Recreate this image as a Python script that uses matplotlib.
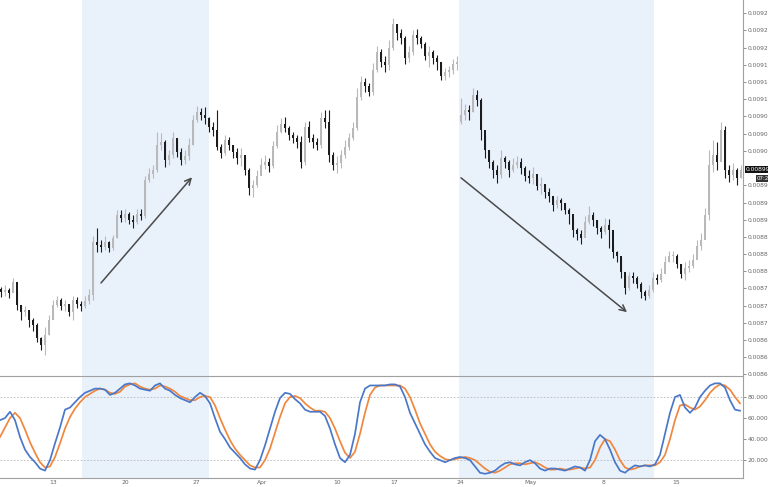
import matplotlib
matplotlib.use("Agg")
import matplotlib.pyplot as plt
from matplotlib import transforms
import numpy as np

# prix en millioniemes (0.008774 -> 8774), barres 4h
closes = [8774, 8778, 8773, 8793, 8751, 8738, 8742, 8724, 8714, 8691,
          8678, 8696, 8724, 8751, 8760, 8749, 8753, 8738, 8760, 8753,
          8749, 8758, 8769, 8865, 8860, 8856, 8865, 8854, 8873, 8914,
          8909, 8916, 8905, 8902, 8916, 8913, 8978, 8989, 8996, 9042,
          9047, 9014, 9023, 9054, 9029, 9014, 9022, 9042, 9087, 9101,
          9096, 9091, 9074, 9069, 9038, 9027, 9051, 9042, 9029, 9018,
          9023, 8996, 8963, 8969, 8985, 9005, 9011, 9003, 9040, 9065,
          9080, 9072, 9060, 9054, 9047, 9011, 9074, 9054, 9047, 9042,
          9091, 9083, 9023, 9005, 9009, 9023, 9038, 9054, 9072, 9129,
          9156, 9149, 9138, 9178, 9211, 9192, 9187, 9218, 9261, 9245,
          9236, 9200, 9211, 9241, 9236, 9225, 9203, 9211, 9200, 9192,
          9167, 9174, 9178, 9189, 9192, 9096, 9105, 9101, 9132, 9123,
          9069, 9032, 9011, 8996, 8987, 9018, 9011, 8996, 9005, 9011,
          9000, 8985, 8982, 8989, 8967, 8971, 8956, 8949, 8933, 8942,
          8936, 8923, 8916, 8887, 8880, 8873, 8902, 8914, 8905, 8891,
          8883, 8896, 8887, 8847, 8840, 8811, 8782, 8804, 8800, 8789,
          8774, 8767, 8778, 8800, 8796, 8807, 8829, 8840, 8840, 8825,
          8807, 8818, 8822, 8833, 8858, 8869, 8914, 9005, 9023, 9011,
          9069, 8996, 8987, 8996, 8982, 8996]

highs = [8784, 8787, 8782, 8800, 8778, 8751, 8749, 8738, 8727, 8718,
         8693, 8711, 8733, 8760, 8767, 8764, 8760, 8751, 8767, 8765,
         8758, 8767, 8780, 8876, 8891, 8869, 8876, 8867, 8878, 8923,
         8923, 8925, 8920, 8914, 8925, 8925, 8985, 9000, 9005, 9065,
         9063, 9051, 9032, 9065, 9054, 9036, 9032, 9054, 9096, 9112,
         9109, 9111, 9092, 9083, 9105, 9043, 9060, 9056, 9042, 9036,
         9036, 9022, 9000, 8978, 8996, 9018, 9023, 9018, 9049, 9078,
         9091, 9092, 9076, 9065, 9060, 9058, 9083, 9085, 9062, 9054,
         9101, 9105, 9105, 9029, 9022, 9032, 9051, 9063, 9083, 9145,
         9167, 9163, 9154, 9191, 9221, 9216, 9203, 9232, 9272, 9261,
         9252, 9240, 9221, 9250, 9252, 9240, 9229, 9221, 9214, 9205,
         9192, 9181, 9185, 9198, 9203, 9127, 9116, 9114, 9145, 9141,
         9127, 9060, 9032, 9014, 9005, 9032, 9022, 9014, 9018, 9022,
         9018, 9003, 8996, 9002, 8982, 8983, 8969, 8963, 8945, 8949,
         8945, 8934, 8927, 8905, 8891, 8887, 8913, 8931, 8920, 8905,
         8894, 8909, 8907, 8858, 8849, 8836, 8807, 8811, 8811, 8804,
         8793, 8778, 8787, 8811, 8807, 8818, 8840, 8849, 8849, 8843,
         8825, 8829, 8833, 8843, 8869, 8882, 8927, 9032, 9051, 9047,
         9083, 9076, 9005, 9009, 9000, 9005]

lows = [8765, 8767, 8764, 8774, 8742, 8724, 8731, 8711, 8704, 8684,
        8669, 8660, 8696, 8727, 8747, 8742, 8740, 8731, 8724, 8745,
        8740, 8745, 8753, 8760, 8847, 8847, 8851, 8847, 8851, 8873,
        8902, 8902, 8898, 8891, 8898, 8905, 8909, 8974, 8982, 8992,
        9032, 9002, 9005, 9018, 9020, 9005, 9007, 9014, 9042, 9083,
        9087, 9080, 9065, 9058, 9032, 9018, 9023, 9032, 9018, 9007,
        9003, 8987, 8951, 8947, 8965, 8987, 8998, 8992, 9000, 9036,
        9063, 9065, 9051, 9045, 9036, 9000, 9005, 9047, 9036, 9032,
        9036, 9072, 9011, 8996, 8991, 9000, 9018, 9032, 9051, 9069,
        9123, 9138, 9131, 9132, 9174, 9183, 9174, 9178, 9214, 9232,
        9225, 9189, 9192, 9205, 9225, 9218, 9196, 9183, 9189, 9178,
        9160, 9160, 9165, 9171, 9178, 9080, 9087, 9087, 9101, 9112,
        9051, 9018, 9000, 8982, 8972, 8982, 9000, 8983, 8992, 9000,
        8989, 8976, 8972, 8971, 8960, 8953, 8945, 8938, 8922, 8927,
        8923, 8916, 8898, 8874, 8869, 8862, 8883, 8898, 8894, 8880,
        8873, 8880, 8854, 8836, 8829, 8800, 8771, 8778, 8791, 8782,
        8764, 8760, 8764, 8774, 8789, 8793, 8814, 8829, 8829, 8818,
        8800, 8796, 8811, 8818, 8847, 8851, 8883, 8905, 8992, 8996,
        9014, 8982, 8974, 8978, 8969, 8982]

first_open = 8780
gap_opens = {115: 9083}   # ouverture apres le week-end

# stochastique, un point toutes les 1.25 barres
stoch_k = [58, 60, 66, 58, 42, 30, 23, 18, 12, 10,
           20, 36, 51, 68, 70, 75, 80, 84, 86, 88,
           88, 87, 82, 84, 88, 92, 93, 91, 88, 87,
           86, 91, 93, 88, 86, 82, 79, 77, 75, 80,
           84, 81, 74, 60, 47, 40, 32, 27, 22, 16,
           12, 11, 20, 34, 50, 66, 79, 84, 83, 78,
           74, 68, 66, 66, 66, 62, 50, 35, 22, 18,
           25, 45, 75, 88, 91, 91, 91, 91, 92, 92,
           90, 80, 65, 55, 45, 35, 28, 22, 20, 18,
           20, 22, 23, 22, 20, 14, 8, 7, 8, 10,
           14, 17, 18, 16, 15, 18, 20, 17, 12, 10,
           12, 12, 11, 10, 12, 14, 13, 10, 20, 38,
           44, 40, 30, 18, 10, 8, 12, 15, 14, 15,
           14, 16, 25, 45, 65, 80, 82, 70, 65, 70,
           80, 86, 91, 93, 93, 89, 77, 68, 67]

stoch_d = [42, 51, 60, 65, 60, 49, 37, 27, 18, 13,
           14, 23, 36, 50, 61, 69, 75, 80, 83, 86,
           88, 87, 84, 83, 85, 90, 92, 93, 90, 88,
           87, 88, 91, 90, 88, 85, 81, 79, 77, 77,
           80, 81, 80, 72, 60, 49, 39, 31, 25, 20,
           15, 13, 13, 20, 31, 46, 61, 74, 80, 81,
           79, 74, 70, 67, 67, 66, 60, 50, 38, 27,
           22, 28, 45, 65, 82, 89, 91, 91, 91, 91,
           91, 88, 80, 68, 55, 45, 35, 28, 24, 21,
           20, 21, 22, 23, 22, 20, 16, 12, 9, 8,
           10, 13, 16, 17, 17, 16, 17, 18, 16, 13,
           11, 11, 12, 11, 11, 12, 13, 12, 13, 20,
           32, 40, 38, 30, 20, 13, 11, 12, 14, 15,
           15, 15, 18, 25, 40, 58, 72, 73, 70, 68,
           71, 77, 84, 89, 92, 91, 87, 80, 74]

# 0.009000 est cache par l'etiquette du dernier prix
price_labels = ["0.008625", "0.008656", "0.008687", "0.008718", "0.008750",
                "0.008781", "0.008812", "0.008844", "0.008875", "0.008906",
                "0.008937", "0.008969", "0.009031", "0.009062",
                "0.009094", "0.009125", "0.009156", "0.009187", "0.009218",
                "0.009250", "0.009281"]
stoch_levels = [20, 40, 60, 80]

date_labels = ["13", "20", "27", "Apr", "10", "17", "24", "May", "8", "15"]
date_pos = [13, 31, 48.75, 65.25, 84, 98.25, 114.75, 132.5, 150.75, 168.75]

zones = [(20.25, 52), (114.5, 163.25)]
fleches = [((25, 8791), (47.75, 8983)), ((115, 8982), (156.5, 8738))]

last_price = "0.008996"
countdown = "07:24"

c = np.array(closes) / 1e6
h = np.array(highs) / 1e6
l = np.array(lows) / 1e6
o = np.r_[first_open / 1e6, c[:-1]]
for k, v in gap_opens.items():
    o[k] = v / 1e6
x = np.arange(len(c))

fig = plt.figure(figsize=(7.68, 4.87), dpi=100)
ax = fig.add_axes([0, 1 - 376 / 487, 743 / 768, 376 / 487])
ax2 = fig.add_axes([0, 1 - 478 / 487, 743 / 768, 102 / 487], sharex=ax)

for a in (ax, ax2):
    for z in zones:
        a.axvspan(z[0], z[1], color="#e9f1fb", zorder=0, lw=0)

up = c >= o
col = np.where(up, "#b9b9b9", "#1c1c1c")
ax.vlines(x, l, h, colors=col, lw=0.8, zorder=2)
ax.bar(x, np.maximum(np.abs(c - o), 1.5e-6), bottom=np.minimum(o, c),
       width=0.55, color=col, zorder=3, lw=0)

for (x0, y0), (x1, y1) in fleches:
    ax.annotate("", xy=(x1, y1 / 1e6), xytext=(x0, y0 / 1e6),
                arrowprops=dict(arrowstyle="->", color="#4a4a4a", lw=1.1,
                                mutation_scale=11, shrinkA=0, shrinkB=0))

ax.set_xlim(-0.25, 185.5)
ax.set_ylim(0.008622, 0.009305)
ax.yaxis.tick_right()
ax.set_yticks([float(s) for s in price_labels])
ax.set_yticklabels(price_labels)
ax.tick_params(axis="y", labelsize=4.3, colors="#666666", length=2, width=0.5, pad=1.5)
ax.tick_params(axis="x", bottom=False, labelbottom=False)
for s in ("top", "left", "bottom"):
    ax.spines[s].set_visible(False)
ax.spines["right"].set_color("#a0a0a0")
ax.spines["right"].set_linewidth(0.8)

# etiquette du dernier prix
tr = transforms.blended_transform_factory(ax.transAxes, ax.transData)
ax.text(1.004, float(last_price) + 1e-6, last_price, transform=tr, fontsize=4.3,
        color="white", va="center", ha="left",
        bbox=dict(boxstyle="square,pad=0.15", fc="#111111", ec="none"))
ax.text(1.018, float(last_price) - 15e-6, countdown, transform=tr, fontsize=4.0,
        color="white", va="center", ha="left",
        bbox=dict(boxstyle="square,pad=0.12", fc="#333333", ec="none"))

xs = np.arange(len(stoch_k)) * 1.25 - 0.25
ax2.plot(xs, stoch_k, color="#4a78c8", lw=1.25, zorder=4)
ax2.plot(xs, stoch_d, color="#f0873e", lw=1.25, zorder=3)
for lv in (20, 80):
    ax2.axhline(lv, color="#b8b8b8", lw=0.6, ls=(0, (2, 2)), zorder=1)
ax2.set_ylim(3, 100)
ax2.yaxis.tick_right()
ax2.set_yticks(stoch_levels)
ax2.set_yticklabels(["%.4f" % v for v in stoch_levels])
ax2.tick_params(axis="y", labelsize=4.3, colors="#666666", length=2, width=0.5, pad=1.5)
ax2.set_xticks(date_pos)
ax2.set_xticklabels(date_labels)
ax2.tick_params(axis="x", labelsize=4.3, colors="#666666", length=0, pad=1.5)
ax2.spines["left"].set_visible(False)
for s in ("top", "right", "bottom"):
    ax2.spines[s].set_color("#a0a0a0")
    ax2.spines[s].set_linewidth(0.8)

fig.savefig("out.png", dpi=100)
